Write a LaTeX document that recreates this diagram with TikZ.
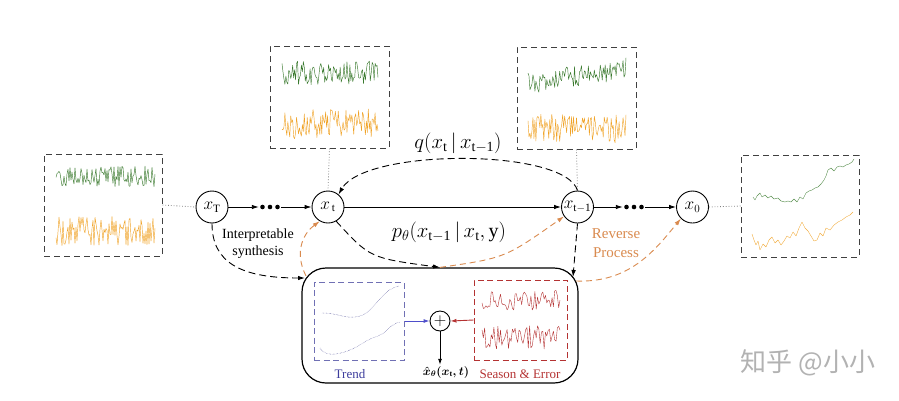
\documentclass[tikz,border=0pt]{standalone}
\usepackage{amsmath}
\usepackage{fontspec}
\setmainfont{Liberation Serif}
\newfontfamily\cjkfont{Noto Sans CJK SC}
\usetikzlibrary{arrows.meta}
\definecolor{dgreen}{HTML}{3A7A2E}
\definecolor{sorange}{HTML}{F0A328}
\definecolor{revorange}{HTML}{D98A4E}
\definecolor{trendblue}{HTML}{7070B4}
\definecolor{trendtext}{HTML}{3C3C9C}
\definecolor{seasonred}{HTML}{B43232}
\definecolor{boxgray}{HTML}{404040}
\begin{document}
\begin{tikzpicture}[x=1pt,y=-1pt,
  state/.style={circle,draw,line width=0.9pt,minimum size=32,inner sep=0pt,font=\fontsize{16}{18}\selectfont},
  panel/.style={draw=boxgray,line width=1pt,dash pattern=on 6pt off 4pt},
  arr/.style={-{Latex[length=7pt,width=4.5pt]},line width=0.9pt},
  bdash/.style={arr,dash pattern=on 7pt off 4pt},
  odash/.style={arr,draw=revorange,dash pattern=on 6pt off 4pt,-{Latex[length=7pt,width=4.5pt,fill=revorange]}},
  link/.style={draw=gray,dotted,line width=0.8pt},
  noise/.style={line width=0.45pt,line join=round},
  walk/.style={line width=0.4pt,line join=round},
  lbl/.style={font=\fontsize{14}{17}\selectfont,align=center}
]
\useasboundingbox (0,0) rectangle (899,400);

% ---- panels ----
\node[panel,minimum width=118,minimum height=102] (b1) at (103,205) {};
\node[panel,minimum width=119,minimum height=102] (b2) at (329.5,97) {};
\node[panel,minimum width=119,minimum height=102] (b3) at (576.5,98) {};
\node[panel,minimum width=118,minimum height=102] (b4) at (800,206) {};

% noise in b1
\pgfmathsetseed{11}
\draw[dgreen,noise] plot[domain=56:155,samples=100] (\x,{177+11*rand});
\pgfmathsetseed{12}
\draw[sorange,noise] plot[domain=56:155,samples=100] (\x,{231+15*rand});
% noise in b2
\pgfmathsetseed{21}
\draw[dgreen,noise] plot[domain=282:378,samples=100] (\x,{73+12*rand});
\pgfmathsetseed{22}
\draw[sorange,noise] plot[domain=282:378,samples=100] (\x,{124+15*rand});
% noise in b3
\pgfmathsetseed{31}
\draw[dgreen,noise] plot[domain=528:626,samples=100] (\x,{83-0.15*(\x-528)+11*rand});
\pgfmathsetseed{32}
\draw[sorange,noise] plot[domain=528:626,samples=100] (\x,{128+15*rand});
% random walks in b4
\draw[dgreen!85,walk] plot coordinates {
(753,197) (755,200) (757,196) (760,193) (762,197) (765,195) (768,198) (771,196) (774,199) (778,198)
(781,201) (785,202) (788,201) (791,202) (794,199) (797,202) (800,197) (803,199) (806,193) (809,191)
(812,190) (815,188) (818,187) (821,184) (824,180) (826,176) (828,170) (831,168) (834,171) (837,167)
(840,166) (843,167) (846,165) (849,164) (852,162) (854,159)};
\draw[sorange!90,walk] plot coordinates {
(752,234) (754,240) (756,245) (758,241) (760,250) (763,244) (766,247) (769,240) (772,237) (775,243)
(778,240) (781,245) (784,241) (787,236) (790,238) (793,232) (796,236) (799,228) (802,222) (805,228)
(808,231) (811,236) (814,241) (817,240) (820,233) (823,236) (826,228) (830,230) (834,225) (838,222)
(842,220) (846,217) (850,215) (853,212)};

% ---- states ----
\node[state] (xT) at (212,207) {$x_{\mathrm T}$};
\node[state] (xt) at (328,207) {$x_{\,\mathrm t}$};
\node[state] (xtm) at (577.5,207) {$x_{\mathrm{t-1}}$};
\node[state] (x0) at (692.5,207) {$x_0$};

\node[minimum width=22,minimum height=6,inner sep=0pt] (d1) at (270,207) {};
\node[minimum width=22,minimum height=6,inner sep=0pt] (d2) at (634,207) {};
\foreach \n in {d1,d2}{
  \foreach \dx in {-7.5,0,7.5} \fill ([xshift=\dx pt]\n.center) circle (2.3);
}

\draw[arr] (xT) -- (d1);
\draw[arr] (d1) -- (xt);
\draw[arr] (xt) -- (xtm);
\draw[arr] (xtm) -- (d2);
\draw[arr] (d2) -- (x0);

\draw[link] (b1.east) -- (xT.west);
\draw[link] (b2.south) -- (xt.north);
\draw[link] (b3.south) -- (xtm.north);
\draw[link] (x0.east) -- (b4.west);

% ---- denoiser box ----
\node[draw,line width=1.2pt,rounded corners=24,minimum width=276,minimum height=115] (big) at (440,325.5) {};
\node[draw=trendblue,line width=1pt,dash pattern=on 6pt off 3.5pt,minimum width=90,minimum height=78] (tr) at (359,321) {};
\node[draw=seasonred,line width=1pt,dash pattern=on 6pt off 3.5pt,minimum width=93,minimum height=80] (se) at (520.5,320) {};
\node[circle,draw,line width=0.9pt,minimum size=20,inner sep=0pt,font=\fontsize{16}{16}\selectfont] (plus) at (440,321) {$+$};
\node[font=\fontsize{12}{14}\selectfont,inner sep=1pt] (xhat) at (446,372) {$\boldsymbol{\hat{x}_{\theta}(x_{\mathrm{t}},t)}$};
\node[font=\fontsize{13}{15}\selectfont,text=trendtext] (trl) at (350,374) {Trend};
\node[font=\fontsize{13}{15}\selectfont,text=seasonred] (sel) at (520,374) {Season \& Error};

\draw[-{Latex[length=6pt,width=4pt]},trendblue!70!blue,line width=0.9pt] (tr.east) -- (plus.west);
\draw[-{Latex[length=6pt,width=4pt]},seasonred,line width=0.9pt] (se.west) -- (plus.east);
\draw[-{Latex[length=6pt,width=4pt]},line width=0.9pt] (plus.south) -- (plus.south |- xhat.north);

% trend curves
\draw[black!60!blue!80,line width=0.4pt,densely dotted] (322,313) .. controls (340,313) and (345,320) .. (360,316) .. controls (375,312) and (380,290) .. (399,286);
\draw[black!60!blue!80,line width=0.4pt,densely dotted] (320,348) .. controls (325,356) and (335,356) .. (350,350) .. controls (362,345) and (365,340) .. (378,336) .. controls (388,332) and (390,324) .. (400,322);
% season noise
\pgfmathsetseed{41}
\draw[seasonred,noise,line width=0.4pt] plot[domain=482:560,samples=60] (\x,{300+10*rand});
\pgfmathsetseed{42}
\draw[seasonred,noise,line width=0.4pt] plot[domain=482:560,samples=60] (\x,{337+12*rand});

% ---- connectors with curves ----
\coordinate (cL) at (305,278);
\coordinate (cO) at (306,276);
\coordinate (cR) at (573,277);
\coordinate (cR2) at (576,281);

\draw[bdash] (xtm.north) .. controls (565,148) and (365,148) .. (xt.50);
\draw[bdash] (xT.south) .. controls (212,262) and (240,278) .. (cL);
\draw[odash] (cO) .. controls (293,250) and (305,232) .. (xt.240);
\draw[bdash] (xt.-60) .. controls (370,258) .. (big.north);
\draw[odash] (big.north) .. controls (505,258) .. (xtm.-145);
\draw[bdash] (xtm.south) -- (cR);
\draw[odash] (cR2) .. controls (630,283) and (655,250) .. (x0.-135);

% ---- labels ----
\node[font=\fontsize{20}{24}\selectfont] (ql) at (458,143) {$q\mathopen{}\left(x_{\mathrm t}\,\middle|\,x_{\mathrm{t-1}}\right)$};
\node[font=\fontsize{20}{24}\selectfont] (pl) at (449,232) {$p_{\theta}\mathopen{}\left(x_{\mathrm{t-1}}\,\middle|\,x_{\mathrm t},\mathrm{y}\right)$};
\node[lbl] (syn) at (258,244) {Interpretable\\synthesis};
\node[lbl,text=revorange,font=\fontsize{15}{19}\selectfont] (rev) at (616,243) {Reverse\\Process};

\node[text=black!30,font=\cjkfont\fontsize{26}{28}\selectfont] (wm) at (808,363) {知乎 @小小};
\end{tikzpicture}
\end{document}
